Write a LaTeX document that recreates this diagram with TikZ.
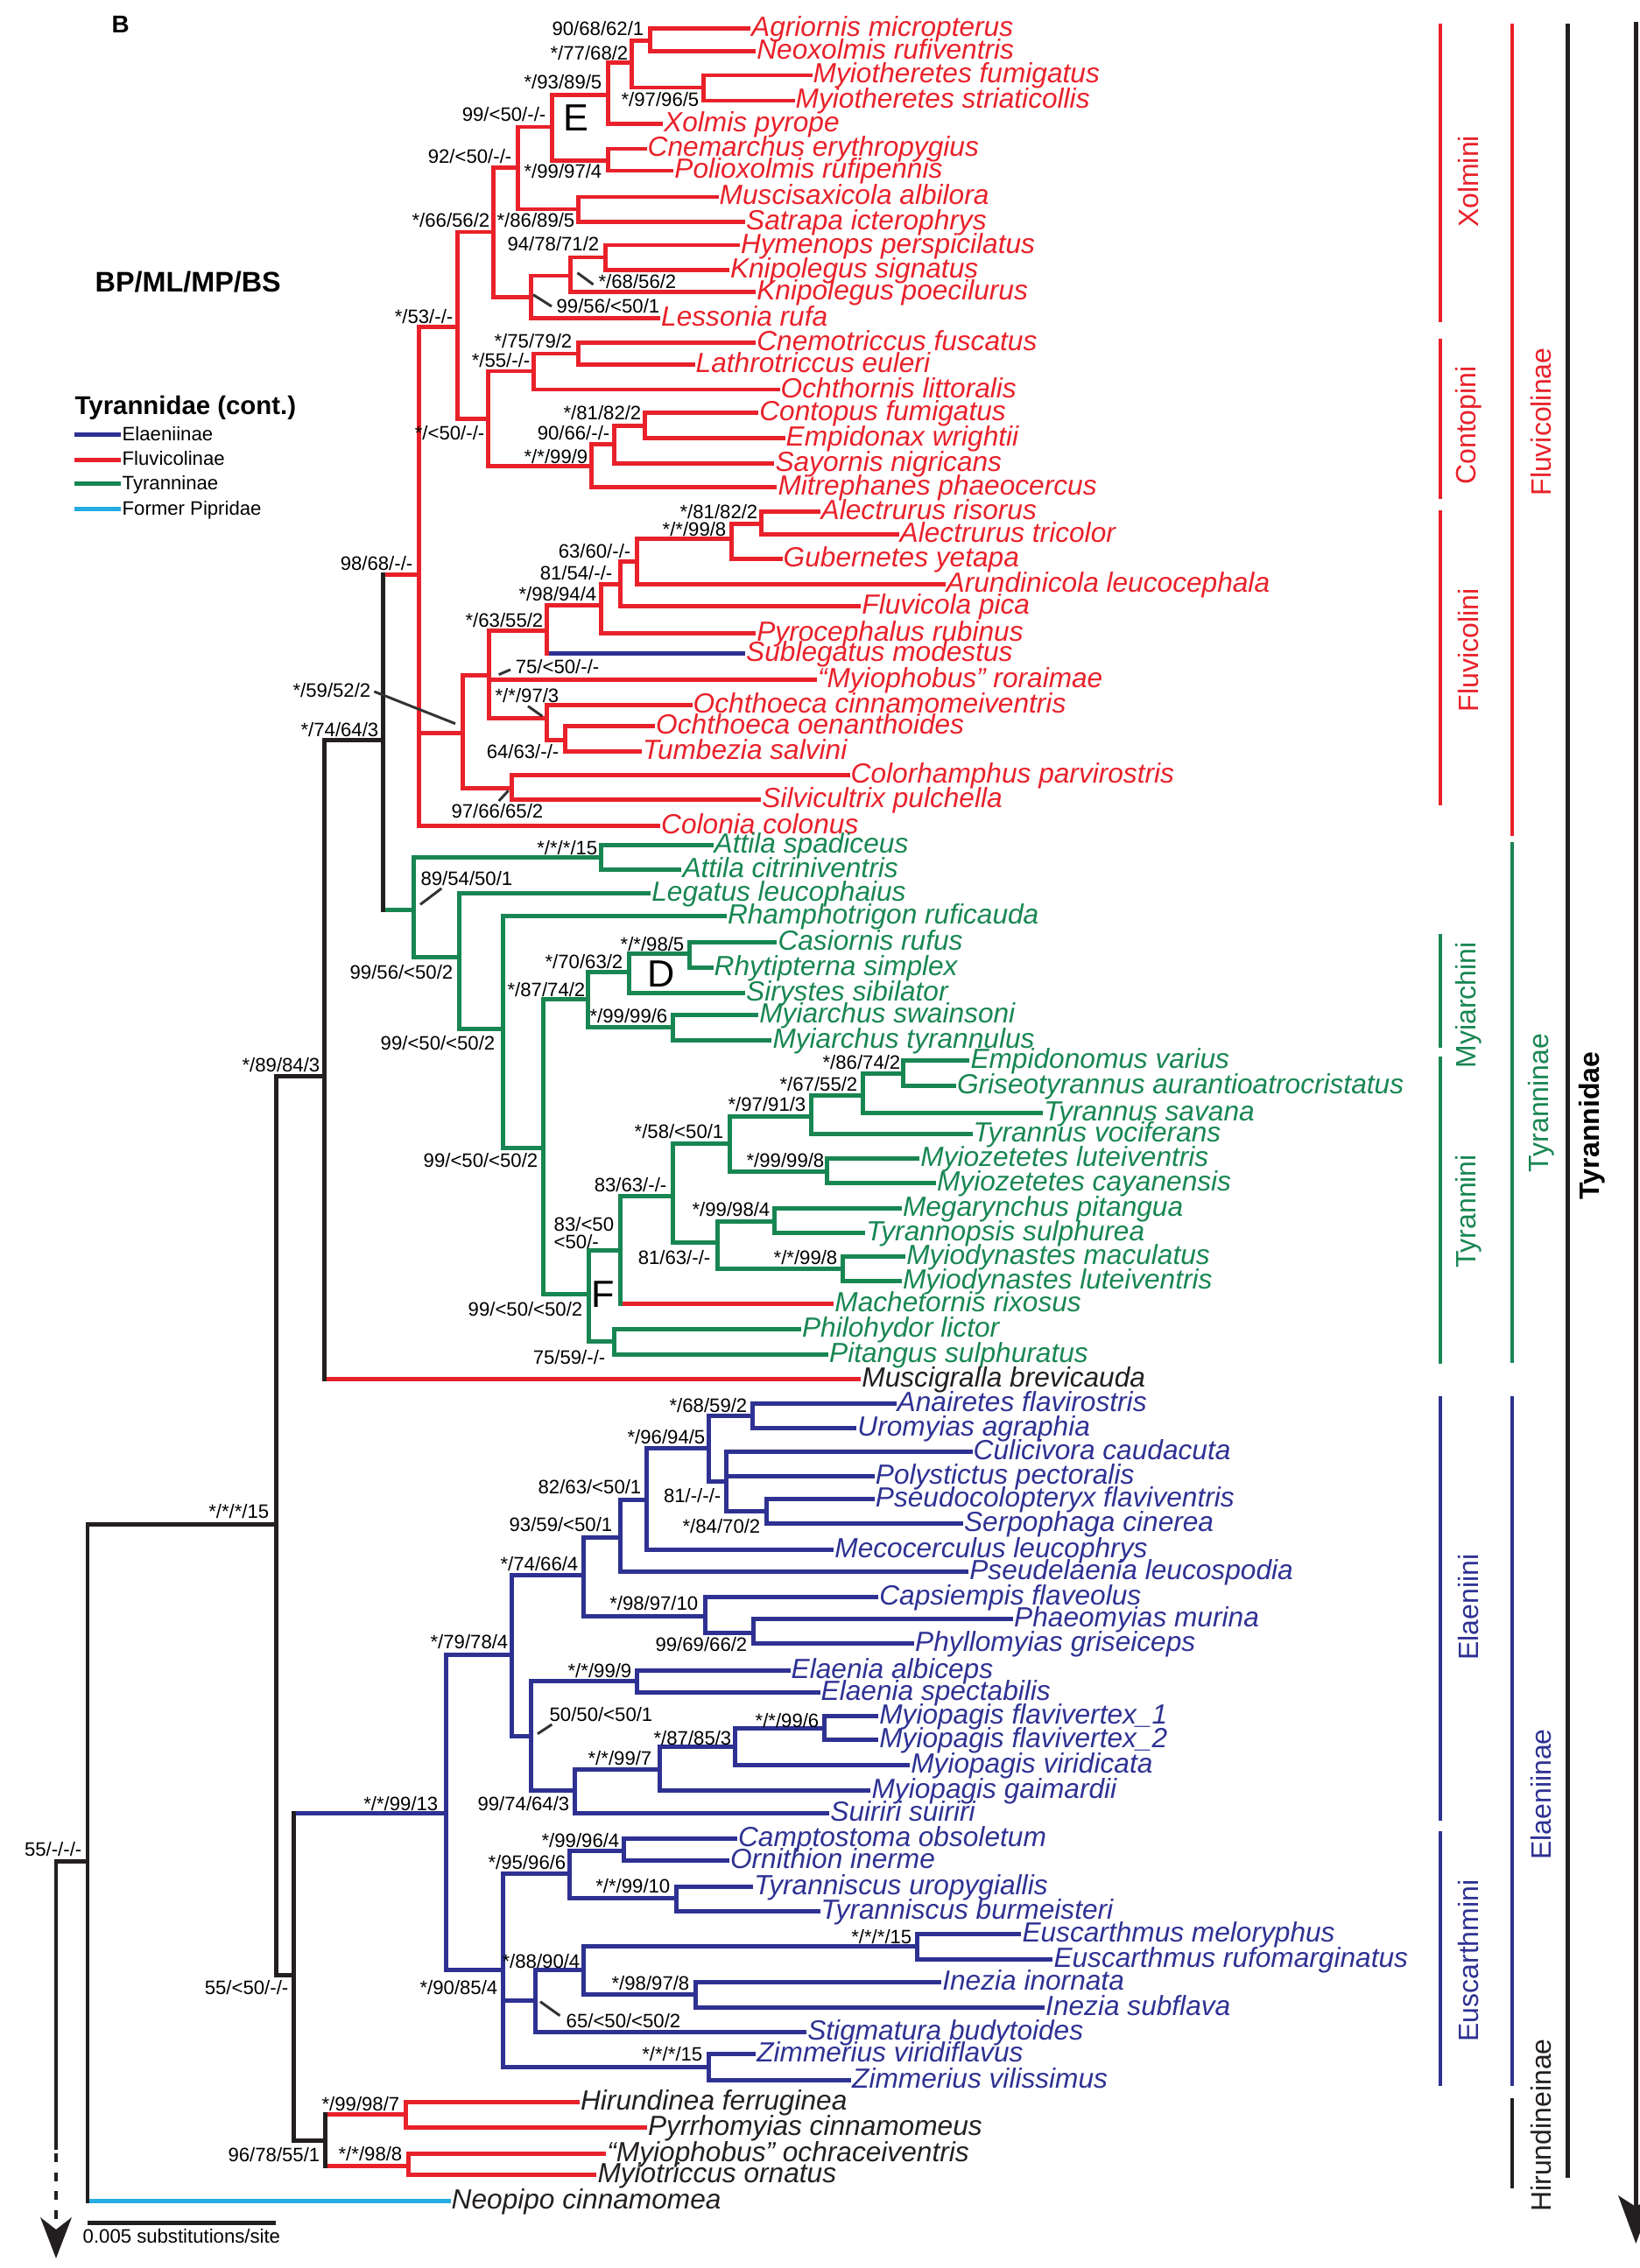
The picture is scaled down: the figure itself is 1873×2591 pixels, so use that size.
\documentclass[tikz,border=0pt]{standalone}
\usepackage{fontspec}
\setmainfont{Liberation Sans}
\definecolor{tred}{RGB}{232,33,42}
\definecolor{tblue}{RGB}{46,49,146}
\definecolor{tgreen}{RGB}{24,134,82}
\definecolor{tcyan}{RGB}{38,172,226}
\definecolor{tblack}{RGB}{35,31,32}
\newcommand{\tLeaf}[5]{\coordinate (#1) at (#2,#3);\node[sp,text=#4] (#1-t) at (#2+3,#3+9) {#5};}
\newcommand{\tIn}[6]{\coordinate (#1) at (#2,#3);\draw[br,#4] (#1 |- #5) -- (#5);\draw[br,#4] (#1 |- #6) -- (#6);\draw[br,#4] (#1 |- #5) -- (#1 |- #6);}
\newcommand{\tH}[3]{\draw[br,#1] (#2 |- #3) -- (#3);}
\newcommand{\tV}[4]{\draw[br,#1] (#2 |- #3) -- (#2 |- #4);}
\newcommand{\tLab}[4]{\node[lab] (#1) at (#2,#3) {#4};}
\newcommand{\tBar}[6]{\coordinate (#1a) at (#3,#4);\coordinate (#1b) at (#3,#5);\draw[bar,#2] (#1a) -- (#1b);\node[barlab,text=#2] (#1l) at (#3+32.5,#6) {#1};}
\begin{document}
\begin{tikzpicture}[x=0.01cm,y=-0.01cm,
  br/.style={line width=1.42pt,line cap=rect},
  sp/.style={font=\fontsize{9}{10}\selectfont\itshape,inner sep=0pt,anchor=base west},
  lab/.style={font=\fontsize{6.3}{7}\selectfont,inner sep=0pt,anchor=base east,text=black},
  bar/.style={line width=1.13pt},
  barlab/.style={font=\fontsize{9.1}{10}\selectfont,rotate=90,inner sep=0pt},
  ptr/.style={line width=0.85pt,draw=black!80},
  big/.style={font=\fontsize{12.3}{13}\selectfont,inner sep=0pt,text=black},
  legt/.style={font=\fontsize{6.3}{7}\selectfont,inner sep=0pt,anchor=base west}]
\useasboundingbox (0,0) rectangle (1873,2591);
% ---------------- leaves ----------------
\tLeaf{agr}{854.5}{32.3}{tred}{Agriornis micropterus}
\tLeaf{neo}{860.6}{58.3}{tred}{Neoxolmis rufiventris}
\tLeaf{myf}{925}{86}{tred}{Myiotheretes fumigatus}
\tLeaf{mys}{905}{115}{tred}{Myiotheretes striaticollis}
\tLeaf{xol}{754.5}{141.7}{tred}{Xolmis pyrope}
\tLeaf{cne}{736}{170}{tred}{Cnemarchus erythropygius}
\tLeaf{pol}{766.7}{195}{tred}{Polioxolmis rufipennis}
\tLeaf{mus}{818}{225}{tred}{Muscisaxicola albilora}
\tLeaf{sat}{848.5}{253.3}{tred}{Satrapa icterophrys}
\tLeaf{hym}{842.4}{280}{tred}{Hymenops perspicilatus}
\tLeaf{kns}{830.3}{308.3}{tred}{Knipolegus signatus}
\tLeaf{knp}{860.6}{333.3}{tred}{Knipolegus poecilurus}
\tLeaf{les}{751.5}{363.3}{tred}{Lessonia rufa}
\tLeaf{cnt}{860.6}{391.7}{tred}{Cnemotriccus fuscatus}
\tLeaf{lat}{791}{416.7}{tred}{Lathrotriccus euleri}
\tLeaf{och}{888}{445}{tred}{Ochthornis littoralis}
\tLeaf{con}{863.6}{471.7}{tred}{Contopus fumigatus}
\tLeaf{emp}{894}{500}{tred}{Empidonax wrightii}
\tLeaf{say}{881.8}{529.3}{tred}{Sayornis nigricans}
\tLeaf{mit}{884.8}{556}{tred}{Mitrephanes phaeocercus}
\tLeaf{alr}{934}{584}{tred}{Alectrurus risorus}
\tLeaf{alt}{1024}{610}{tred}{Alectrurus tricolor}
\tLeaf{gub}{891}{638.3}{tred}{Gubernetes yetapa}
\tLeaf{aru}{1077}{667.3}{tred}{Arundinicola leucocephala}
\tLeaf{flu}{980.7}{692.3}{tred}{Fluvicola pica}
\tLeaf{pyr}{860.6}{723.3}{tred}{Pyrocephalus rubinus}
\tLeaf{sub}{848.5}{746.7}{tred}{Sublegatus modestus}
\tLeaf{myr}{930.3}{776}{tred}{“Myiophobus” roraimae}
\tLeaf{ocn}{788}{805}{tred}{Ochthoeca cinnamomeiventris}
\tLeaf{ooe}{745.5}{829.3}{tred}{Ochthoeca oenanthoides}
\tLeaf{tum}{730.3}{858.3}{tred}{Tumbezia salvini}
\tLeaf{col}{968}{885}{tred}{Colorhamphus parvirostris}
\tLeaf{sil}{866.7}{913.3}{tred}{Silvicultrix pulchella}
\tLeaf{clc}{751.5}{943.3}{tred}{Colonia colonus}
\tLeaf{ats}{812}{965}{tgreen}{Attila spadiceus}
\tLeaf{atc}{775.8}{993.3}{tgreen}{Attila citriniventris}
\tLeaf{leg}{740.6}{1020}{tgreen}{Legatus leucophaius}
\tLeaf{rha}{827.3}{1046.7}{tgreen}{Rhamphotrigon ruficauda}
\tLeaf{cas}{884.8}{1076}{tgreen}{Casiornis rufus}
\tLeaf{rhy}{812}{1105}{tgreen}{Rhytipterna simplex}
\tLeaf{sir}{848.5}{1134}{tgreen}{Sirystes sibilator}
\tLeaf{msw}{863.6}{1159.3}{tgreen}{Myiarchus swainsoni}
\tLeaf{mty}{878.8}{1188.3}{tgreen}{Myiarchus tyrannulus}
\tLeaf{emv}{1104.8}{1211.7}{tgreen}{Empidonomus varius}
\tLeaf{gri}{1089.3}{1240.7}{tgreen}{Griseotyrannus aurantioatrocristatus}
\tLeaf{tsa}{1188.6}{1271.7}{tgreen}{Tyrannus savana}
\tLeaf{tvo}{1108}{1295}{tgreen}{Tyrannus vociferans}
\tLeaf{mzl}{1047.7}{1323.3}{tgreen}{Myiozetetes luteiventris}
\tLeaf{mzc}{1066.4}{1351.7}{tgreen}{Myiozetetes cayanensis}
\tLeaf{meg}{1027.3}{1380}{tgreen}{Megarynchus pitangua}
\tLeaf{tys}{985.7}{1408.3}{tgreen}{Tyrannopsis sulphurea}
\tLeaf{mdm}{1031.6}{1435}{tgreen}{Myiodynastes maculatus}
\tLeaf{mdl}{1027.3}{1463.3}{tgreen}{Myiodynastes luteiventris}
\tLeaf{mac}{949.7}{1489.3}{tgreen}{Machetornis rixosus}
\tLeaf{phi}{912.4}{1518.3}{tgreen}{Philohydor lictor}
\tLeaf{pit}{943.5}{1547.3}{tgreen}{Pitangus sulphuratus}
\tLeaf{msc}{980.7}{1575}{tblack}{Muscigralla brevicauda}
\tLeaf{ana}{1021}{1603.3}{tblue}{Anairetes flavirostris}
\tLeaf{uro}{975.7}{1631.7}{tblue}{Uromyias agraphia}
\tLeaf{cul}{1108}{1658.3}{tblue}{Culicivora caudacuta}
\tLeaf{pos}{996.2}{1686.7}{tblue}{Polystictus pectoralis}
\tLeaf{psc}{996.2}{1712.7}{tblue}{Pseudocolopteryx flaviventris}
\tLeaf{ser}{1097.4}{1740.7}{tblue}{Serpophaga cinerea}
\tLeaf{mec}{949.7}{1770.7}{tblue}{Mecocerculus leucophrys}
\tLeaf{pse}{1103.6}{1795}{tblue}{Pseudelaenia leucospodia}
\tLeaf{cap}{1000.6}{1824}{tblue}{Capsiempis flaveolus}
\tLeaf{pha}{1154.5}{1849.3}{tblue}{Phaeomyias murina}
\tLeaf{phy}{1041.5}{1877.7}{tblue}{Phyllomyias griseiceps}
\tLeaf{ela}{900}{1908.3}{tblue}{Elaenia albiceps}
\tLeaf{els}{934}{1933.3}{tblue}{Elaenia spectabilis}
\tLeaf{mfa}{1000.6}{1960}{tblue}{Myiopagis flavivertex\_1}
\tLeaf{mfb}{1000.6}{1987.7}{tblue}{Myiopagis flavivertex\_2}
\tLeaf{mvi}{1036.6}{2016.7}{tblue}{Myiopagis viridicata}
\tLeaf{mga}{991.9}{2045}{tblue}{Myiopagis gaimardii}
\tLeaf{sui}{944.7}{2071.7}{tblue}{Suiriri suiriri}
\tLeaf{cam}{839.4}{2100}{tblue}{Camptostoma obsoletum}
\tLeaf{orn}{830.3}{2125}{tblue}{Ornithion inerme}
\tLeaf{tyu}{857.6}{2155}{tblue}{Tyranniscus uropygiallis}
\tLeaf{tyb}{934}{2183.3}{tblue}{Tyranniscus burmeisteri}
\tLeaf{eum}{1163.8}{2209.3}{tblue}{Euscarthmus meloryphus}
\tLeaf{eur}{1199.8}{2238.3}{tblue}{Euscarthmus rufomarginatus}
\tLeaf{ini}{1072.6}{2264}{tblue}{Inezia inornata}
\tLeaf{ins}{1190.5}{2293.3}{tblue}{Inezia subflava}
\tLeaf{sti}{918.6}{2321.7}{tblue}{Stigmatura budytoides}
\tLeaf{zvi}{860.6}{2346.7}{tblue}{Zimmerius viridiflavus}
\tLeaf{zvl}{969.5}{2376.7}{tblue}{Zimmerius vilissimus}
\tLeaf{hir}{659.4}{2401.7}{tblack}{Hirundinea ferruginea}
\tLeaf{pyc}{736.4}{2430}{tblack}{Pyrrhomyias cinnamomeus}
\tLeaf{myo}{689.7}{2460}{tblack}{“Myiophobus” ochraceiventris}
\tLeaf{myt}{678.8}{2484.3}{tblack}{Myiotriccus ornatus}
\tLeaf{npp}{512}{2514}{tblack}{Neopipo cinnamomea}
% ---------------- Fluvicolinae ----------------
\tIn{nA}{742}{46.7}{tred}{agr}{neo}
\tIn{nM}{803}{100}{tred}{myf}{mys}
\tIn{nB}{721}{71.7}{tred}{nA}{nM}
\tIn{nC}{694}{108.3}{tred}{nB}{xol}
\tIn{nD}{694}{183.3}{tred}{cne}{pol}
\tIn{nE}{630}{145}{tred}{nC}{nD}
\tIn{nF}{660.6}{239}{tred}{mus}{sat}
\tIn{nG}{591}{191.7}{tred}{nE}{nF}
\tIn{nH}{691}{294}{tred}{hym}{kns}
\tIn{nI}{651.5}{315}{tred}{nH}{knp}
\tIn{nJ}{606}{339.3}{tred}{nI}{les}
\tIn{nK}{563.6}{265}{tred}{nG}{nJ}
\tIn{nNa}{660.6}{404}{tred}{cnt}{lat}
\tIn{nNb}{609}{424}{tred}{nNa}{och}
\tIn{nOa}{736}{486}{tred}{con}{emp}
\tIn{nOb}{701.8}{507.3}{tred}{nOa}{say}
\tIn{nOc}{675.8}{532.7}{tred}{nOb}{mit}
\tIn{nNc}{557.6}{478.3}{tred}{nNb}{nOc}
\tIn{nL}{522.4}{373.3}{tred}{nK}{nNc}
\tIn{nPa}{869.7}{598.3}{tred}{alr}{alt}
\tIn{nPb}{835}{615.7}{tred}{nPa}{gub}
\tIn{nPc}{727}{641.7}{tred}{nPb}{aru}
\tIn{nPd}{708}{667.3}{tred}{nPc}{flu}
\tIn{nPe}{686.7}{691.7}{tred}{nPd}{pyr}
\coordinate (nPf) at (624,720);
\tH{tred}{nPf}{nPe}\tH{tblue}{nPf}{sub}\tV{tred}{nPf}{nPe}{sub}
\tIn{nQa}{645.5}{845}{tred}{ooe}{tum}
\tIn{nQb}{624}{820}{tred}{ocn}{nQa}
\tIn{nR}{558.8}{771.7}{tred}{nPf}{nQb}
\tH{tred}{nR}{myr}
\tIn{nS}{584.8}{900}{tred}{col}{sil}
\tIn{nT}{528}{837.3}{tred}{nR}{nS}
\tIn{nU}{478.8}{656.7}{tred}{nL}{clc}
\tH{tred}{nU}{nT}
% ---------------- Tyranninae ----------------
\tIn{nWa}{686.7}{979}{tgreen}{ats}{atc}
\tIn{nXa}{787.9}{1089.3}{tgreen}{cas}{rhy}
\tIn{nXb}{718.2}{1110.7}{tgreen}{nXa}{sir}
\tIn{nXc}{768.5}{1173.3}{tgreen}{msw}{mty}
\tIn{nXd}{671}{1141}{tgreen}{nXb}{nXc}
\tIn{nYa}{1031.6}{1226.7}{tgreen}{emv}{gri}
\tIn{nYb}{985.7}{1251.7}{tgreen}{nYa}{tsa}
\tIn{nYc}{926}{1275}{tgreen}{nYb}{tvo}
\tIn{nZa}{944.7}{1338}{tgreen}{mzl}{mzc}
\tIn{nYd}{833.3}{1306.7}{tgreen}{nYc}{nZa}
\tIn{nZb}{884.8}{1395}{tgreen}{meg}{tys}
\tIn{nZc}{962}{1449.3}{tgreen}{mdm}{mdl}
\tIn{nZd}{819.4}{1419.3}{tgreen}{nZb}{nZc}
\tIn{nZe}{768.5}{1366}{tgreen}{nYd}{nZd}
\coordinate (nZf) at (708,1428.3);
\tH{tgreen}{nZf}{nZe}\tH{tred}{nZf}{mac}\tV{tgreen}{nZf}{nZe}{mac}
\tIn{nZg}{701.8}{1532.7}{tgreen}{phi}{pit}
\tIn{nZh}{672.7}{1478.3}{tgreen}{nZf}{nZg}
\tIn{nXe}{620}{1311.7}{tgreen}{nXd}{nZh}
\tIn{nXf}{574.5}{1175}{tgreen}{rha}{nXe}
\tIn{nXg}{524.2}{1093.3}{tgreen}{leg}{nXf}
\tIn{nXh}{472.7}{1039}{tgreen}{nWa}{nXg}
\coordinate (nV) at (437.6,845.7);
\tH{tred}{nV}{nU}\tH{tgreen}{nV}{nXh}\tV{tblack}{nV}{nU}{nXh}
\coordinate (nAA) at (370,1229.3);
\tH{tblack}{nAA}{nV}\tH{tred}{nAA}{msc}\tV{tblack}{nAA}{nV}{msc}
% ---------------- Elaeniinae ----------------
\tIn{nEa}{859.4}{1617.3}{tblue}{ana}{uro}
\tIn{nEb}{875.8}{1726.7}{tblue}{psc}{ser}
\tIn{nEc}{829}{1692}{tblue}{cul}{nEb}
\tH{tblue}{nEc}{pos}
\tIn{nEd}{809}{1654.3}{tblue}{nEa}{nEc}
\tIn{nEe}{738}{1713.3}{tblue}{nEd}{mec}
\tIn{nEf}{708}{1756}{tblue}{nEe}{pse}
\tIn{nEg}{860.6}{1865}{tblue}{pha}{phy}
\tIn{nEh}{805}{1846.7}{tblue}{cap}{nEg}
\tIn{nEi}{666.7}{1799}{tblue}{nEf}{nEh}
\tIn{nEj}{727.3}{1920}{tblue}{ela}{els}
\tIn{nEm}{941}{1974}{tblue}{mfa}{mfb}
\tIn{nEk}{839.4}{1995}{tblue}{nEm}{mvi}
\tIn{nEl}{753.3}{2021}{tblue}{nEk}{mga}
\tIn{nEn}{656.4}{2045}{tblue}{nEl}{sui}
\tIn{nEo}{606}{1983.3}{tblue}{nEj}{nEn}
\tIn{nEp}{584.8}{1890}{tblue}{nEi}{nEo}
\tIn{nFa}{712}{2114}{tblue}{cam}{orn}
\tIn{nFb}{772.7}{2168.3}{tblue}{tyu}{tyb}
\tIn{nFc}{650.3}{2140.7}{tblue}{nFa}{nFb}
\tIn{nFe}{1047.7}{2223.3}{tblue}{eum}{eur}
\tIn{nFi}{794}{2278.3}{tblue}{ini}{ins}
\tIn{nFd}{666.7}{2250}{tblue}{nFe}{nFi}
\tIn{nFf}{611}{2285}{tblue}{nFd}{sti}
\tIn{nFz}{809}{2361.7}{tblue}{zvi}{zvl}
\tIn{nFg}{574.5}{2250}{tblue}{nFc}{nFz}
\tH{tblue}{nFg}{nFf}
\tIn{nEq}{509}{2071.7}{tblue}{nEp}{nFg}
% ---------------- Hirundineinae and root ----------------
\tIn{nHa}{463.6}{2415.7}{tred}{hir}{pyc}
\tIn{nHb}{466.7}{2474}{tred}{myo}{myt}
\coordinate (nHc) at (371,2445);
\tH{tred}{nHc}{nHa}\tH{tred}{nHc}{nHb}\tV{tblack}{nHc}{nHa}{nHb}
\coordinate (nCC) at (335,2256.7);
\tH{tblue}{nCC}{nEq}\tH{tblack}{nCC}{nHc}\tV{tblack}{nCC}{nEq}{nHc}
\coordinate (nBB) at (315,1741.7);
\tH{tblack}{nBB}{nAA}\tH{tblack}{nBB}{nCC}\tV{tblack}{nBB}{nAA}{nCC}
\coordinate (nDD) at (100,2126);
\tH{tblack}{nDD}{nBB}\tH{tcyan}{nDD}{npp}\tV{tblack}{nDD}{nBB}{npp}
\coordinate (root) at (64,2126);
\coordinate (rsol) at (64,2453);
\coordinate (rda) at (64,2460);
\coordinate (rdb) at (64,2537);
\coordinate (rtip) at (64,2580);
\draw[br,tblack] (root) -- (nDD);
\draw[br,tblack] (root) -- (rsol);
\draw[line width=1.42pt,tblack,dash pattern=on 2.85pt off 3.3pt] (rda) -- (rdb);
\fill[tblack] (rtip) -- (46,2533) -- (64,2547) -- (82,2533) -- cycle;
% scale bar
\coordinate (sba) at (100,2539);
\coordinate (sbb) at (315,2539);
\draw[line width=1.42pt,tblack] (sba) -- (sbb);
\node[lab,anchor=base west] (sbl) at (94,2562) {0.005 substitutions/site};
% ---------------- support labels ----------------
\tLab{lb1}{736}{41}{90/68/62/1}
\tLab{lb2}{718}{69}{*/77/68/2}
\tLab{lb3}{688}{102}{*/93/89/5}
\tLab{lb4}{799}{122}{*/97/96/5}
\tLab{lb5}{624}{139}{99/<50/-/-}
\tLab{lb7}{585}{187}{92/<50/-/-}
\tLab{lb8}{688}{204}{*/99/97/4}
\tLab{lb9}{657}{259}{*/86/89/5}
\tLab{lb10}{560}{259}{*/66/56/2}
\tLab{lb11}{685}{287}{94/78/71/2}
\tLab{lb12}{773}{329}{*/68/56/2}
\tLab{lb13}{754}{357}{99/56/<50/1}
\tLab{lb14}{518}{369}{*/53/-/-}
\tLab{lb15}{654}{397}{*/75/79/2}
\tLab{lb16}{606}{419}{*/55/-/-}
\tLab{lb17}{733}{479}{*/81/82/2}
\tLab{lb18}{697}{502}{90/66/-/-}
\tLab{lb19}{672}{529}{*/*/99/9}
\tLab{lb20}{554}{502}{*/<50/-/-}
\tLab{lb21}{866}{592}{*/81/82/2}
\tLab{lb22}{830}{612}{*/*/99/8}
\tLab{lb23}{721}{637}{63/60/-/-}
\tLab{lb24}{700}{662}{81/54/-/-}
\tLab{lb25}{682}{686}{*/98/94/4}
\tLab{lb26}{621}{716}{*/63/55/2}
\tLab{lb27}{685}{769}{75/<50/-/-}
\tLab{lb28}{639}{802}{*/*/97/3}
\tLab{lb29}{639}{866}{64/63/-/-}
\tLab{lb30}{424}{796}{*/59/52/2}
\tLab{lb31}{433}{841}{*/74/64/3}
\tLab{lb32}{472}{651}{98/68/-/-}
\tLab{lb33}{621}{934}{97/66/65/2}
\tLab{lb34}{683}{976}{*/*/*/15}
\tLab{lb35}{586}{1011}{89/54/50/1}
\tLab{lb36}{782}{1086}{*/*/98/5}
\tLab{lb37}{712}{1106}{*/70/63/2}
\tLab{lb39}{669}{1138}{*/87/74/2}
\tLab{lb40}{763}{1168}{*/99/99/6}
\tLab{lb41}{518}{1118}{99/56/<50/2}
\tLab{lb42}{566}{1199}{99/<50/<50/2}
\tLab{lb43}{366}{1224}{*/89/84/3}
\tLab{lb44}{921}{1269}{*/97/91/3}
\tLab{lb45}{827}{1300}{*/58/<50/1}
\tLab{lb46}{980}{1246}{*/67/55/2}
\tLab{lb47}{1029}{1221}{*/86/74/2}
\tLab{lb48}{615}{1333}{99/<50/<50/2}
\tLab{lb49}{942}{1333}{*/99/99/8}
\tLab{lb50}{762}{1361}{83/63/-/-}
\tLab{lb51}{880}{1389}{*/99/98/4}
\node[lab,anchor=base west] (lb52a) at (632,1406) {83/<50};
\node[lab,anchor=base west] (lb52b) at (632,1426) {<50/-};
\tLab{lb53}{812}{1444}{81/63/-/-}
\tLab{lb54}{957}{1444}{*/*/99/8}
\tLab{lb56}{666}{1503}{99/<50/<50/2}
\tLab{lb57}{692}{1558}{75/59/-/-}
\tLab{lb58}{854}{1613}{*/68/59/2}
\tLab{lb59}{806}{1649}{*/96/94/5}
\tLab{lb60}{733}{1706}{82/63/<50/1}
\tLab{lb61}{824}{1716}{81/-/-/-}
\tLab{lb62}{308}{1734}{*/*/*/15}
\tLab{lb63}{700}{1749}{93/59/<50/1}
\tLab{lb64}{869}{1751}{*/84/70/2}
\tLab{lb65}{661}{1794}{*/74/66/4}
\tLab{lb66}{798}{1839}{*/98/97/10}
\tLab{lb67}{854}{1886}{99/69/66/2}
\tLab{lb68}{581}{1883}{*/79/78/4}
\tLab{lb69}{722}{1916}{*/*/99/9}
\tLab{lb70}{746}{1966}{50/50/<50/1}
\tLab{lb71}{936}{1973}{*/*/99/6}
\tLab{lb72}{836}{1993}{*/87/85/3}
\tLab{lb73}{745}{2016}{*/*/99/7}
\tLab{lb74}{501}{2068}{*/*/99/13}
\tLab{lb75}{651}{2068}{99/74/64/3}
\tLab{lb76}{708}{2110}{*/99/96/4}
\tLab{lb77}{647}{2135}{*/95/96/6}
\tLab{lb78}{94}{2120}{55/-/-/-}
\tLab{lb79}{766}{2162}{*/*/99/10}
\tLab{lb80}{663}{2248}{*/88/90/4}
\tLab{lb81}{788}{2273}{*/98/97/8}
\tLab{lb82}{330}{2278}{55/<50/-/-}
\tLab{lb83}{569}{2278}{*/90/85/4}
\tLab{lb84}{778}{2316}{65/<50/<50/2}
\tLab{lb85}{803}{2354}{*/*/*/15}
\tLab{lb86}{1042}{2220}{*/*/*/15}
\tLab{lb87}{457}{2411}{*/99/98/7}
\tLab{lb88}{460}{2468}{*/*/98/8}
\tLab{lb89}{366}{2469}{96/78/55/1}
% clade letters
\node[big] (ltE) at (658,135) {E};
\node[big] (ltD) at (755,1112.5) {D};
\node[big] (ltF) at (689,1479) {F};
% pointer lines
\coordinate (p1a) at (659.4,311.7); \coordinate (p1b) at (677.6,325); \draw[ptr] (p1a) -- (p1b);
\coordinate (p2a) at (609,336.7); \coordinate (p2b) at (630,350); \draw[ptr] (p2a) -- (p2b);
\coordinate (p3a) at (569.7,770.7); \coordinate (p3b) at (583,765); \draw[ptr] (p3a) -- (p3b);
\coordinate (p4a) at (603,806.7); \coordinate (p4b) at (619.4,818.3); \draw[ptr] (p4a) -- (p4b);
\coordinate (p5a) at (427.3,790); \coordinate (p5b) at (520,826.7); \draw[ptr] (p5a) -- (p5b);
\coordinate (p6a) at (569.7,915); \coordinate (p6b) at (580.6,903.3); \draw[ptr] (p6a) -- (p6b);
\coordinate (p7a) at (480,1033.3); \coordinate (p7b) at (504.2,1015); \draw[ptr] (p7a) -- (p7b);
\coordinate (p8a) at (614,1980.7); \coordinate (p8b) at (630.3,1970); \draw[ptr] (p8a) -- (p8b);
\coordinate (p9a) at (617,2286.7); \coordinate (p9b) at (639.4,2302.7); \draw[ptr] (p9a) -- (p9b);
% ---------------- headings and legend ----------------
\node[font=\fontsize{7.9}{9}\selectfont\bfseries,inner sep=0pt,anchor=base west] (ttlB) at (127,38) {B};
\node[font=\fontsize{9.2}{10}\selectfont\bfseries,inner sep=0pt,anchor=base west] (ttlBP) at (108,333) {BP/ML/MP/BS};
\node[font=\fontsize{8.35}{9}\selectfont\bfseries,inner sep=0pt,anchor=base west] (legT) at (85,473) {Tyrannidae (cont.)};
\coordinate (lgAa) at (85,496.7); \coordinate (lgAb) at (138,496.7);
\draw[line width=1.42pt,tblue] (lgAa) -- (lgAb); \node[legt] (lgA) at (139,503.5) {Elaeniinae};
\coordinate (lgBa) at (85,525); \coordinate (lgBb) at (138,525);
\draw[line width=1.42pt,tred] (lgBa) -- (lgBb); \node[legt] (lgB) at (139,531.8) {Fluvicolinae};
\coordinate (lgCa) at (85,552.7); \coordinate (lgCb) at (138,552.7);
\draw[line width=1.42pt,tgreen] (lgCa) -- (lgCb); \node[legt] (lgC) at (139,559.5) {Tyranninae};
\coordinate (lgDa) at (85,581.7); \coordinate (lgDb) at (138,581.7);
\draw[line width=1.42pt,tcyan] (lgDa) -- (lgDb); \node[legt] (lgD) at (139,588.5) {Former Pipridae};
% ---------------- right-hand bars ----------------
\tBar{Xolmini}{tred}{1645}{26.7}{368.3}{207.5}
\tBar{Contopini}{tred}{1645}{386.7}{570}{486}
\tBar{Fluvicolini}{tred}{1645}{583.3}{920}{743}
\tBar{Myiarchini}{tgreen}{1645}{1066.7}{1196.7}{1148.5}
\tBar{Tyrannini}{tgreen}{1645}{1206.7}{1558.3}{1384}
\tBar{Elaeniini}{tblue}{1645}{1595}{2080}{1836}
\tBar{Euscarthmini}{tblue}{1645}{2091.7}{2383.3}{2240}
\tBar{Fluvicolinae}{tred}{1727.4}{26.7}{955}{482}
\tBar{Tyranninae}{tgreen}{1727.4}{961.7}{1556.7}{1260}
\tBar{Elaeniinae}{tblue}{1727.4}{1595}{2383.3}{2050}
\tBar{Hirundineinae}{tblack}{1727.4}{2396.7}{2500}{2428}
\coordinate (tyra) at (1790.8,26.7); \coordinate (tyrb) at (1790.8,2488.3);
\draw[line width=1.42pt,tblack] (tyra) -- (tyrb);
\node[barlab,font=\fontsize{9.1}{10}\selectfont\bfseries,text=black] (tyrl) at (1818.5,1286) {Tyrannidae};
\coordinate (arra) at (1868.3,25); \coordinate (arrb) at (1868.3,2522); \coordinate (arrtip) at (1868.3,2563);
\draw[line width=1.42pt,tblack] (arra) -- (arrb);
\fill[tblack] (arrtip) -- (1848,2508) -- (1868.3,2521) -- (1889,2508) -- cycle;
\end{tikzpicture}
\end{document}
